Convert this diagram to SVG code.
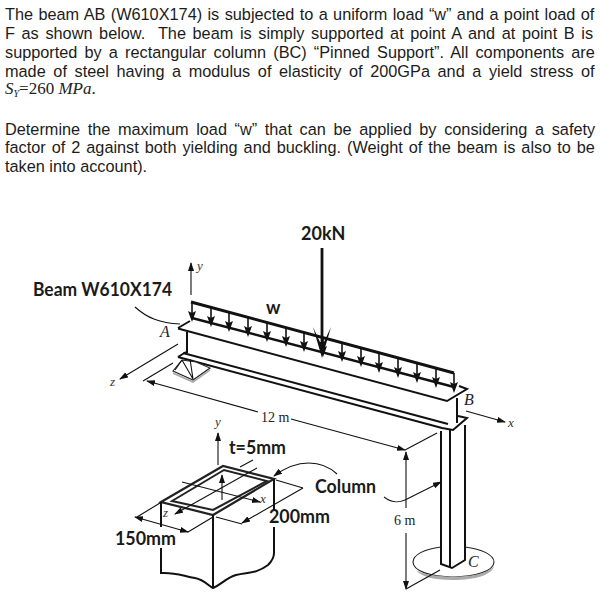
<svg xmlns="http://www.w3.org/2000/svg" width="600" height="596" viewBox="0 0 600 596">
<style>
.t{font:16.3px "Liberation Sans",Arial,sans-serif;fill:#1c1c1c}
.b{font:700 18px Lato,"Liberation Sans",sans-serif;fill:#1a1a1a}
.i{font:italic 13px "Liberation Serif",serif;fill:#333}
.c{font:italic 16px "Liberation Serif",serif;fill:#222}
.d{font:14px "Liberation Serif",serif;fill:#222}
.l{fill:none;stroke:#111;stroke-width:1.1}
.k{fill:none;stroke:#111;stroke-width:2}
.h{fill:none;stroke:#111;stroke-width:3}
</style>
<defs>
<marker id="a" markerWidth="9" markerHeight="7" refX="8" refY="3" orient="auto" markerUnits="userSpaceOnUse"><path d="M0 0L9 3L0 6Z" fill="#111"/></marker>
<marker id="s" markerWidth="9" markerHeight="7" refX="1" refY="3" orient="auto" markerUnits="userSpaceOnUse"><path d="M9 0L0 3L9 6Z" fill="#111"/></marker>
<path id="wh" d="M0 0V14" stroke="#111" stroke-width="1.6"/>
<path id="wa" d="M-4 9L0 20L4 9L0 11Z" fill="#111"/>
</defs>
<g id="statement">
<text class="t" x="5" y="19.500" word-spacing="0.85">The beam AB (W610X174) is subjected to a uniform load “w” and a point load of</text>
<text class="t" x="5" y="38.500" word-spacing="2.1">F as shown below. <tspan dx="6.3">The</tspan> beam is simply supported at point A and at point B is</text>
<text class="t" x="5" y="57.500" word-spacing="2.6">supported by a rectangular column (BC) “Pinned Support”. All components are</text>
<text class="t" x="5" y="76.500" word-spacing="3.07">made of steel having a modulus of elasticity of 200GPa and a yield stress of</text>
<text x="5" y="94" style="font:italic 17px 'Liberation Serif',serif;fill:#222">S<tspan dy="3" font-size="10">Y</tspan><tspan dy="-3" font-style="normal">=260 </tspan>MPa<tspan font-style="normal">.</tspan></text>
<text class="t" x="5" y="134.500" word-spacing="3.1">Determine the maximum load “w” that can be applied by considering a safety</text>
<text class="t" x="5" y="153" word-spacing="1.45">factor of 2 against both yielding and buckling. (Weight of the beam is also to be</text>
<text class="t" x="5" y="172">taken into account).</text>
</g>
<g id="labels">
<text class="b" x="301" y="240">20kN</text>
<text class="b" x="33" y="296" textLength="139" lengthAdjust="spacingAndGlyphs">Beam W610X174</text>
<text class="b" x="266" y="314">w</text>
<text class="b" x="229" y="454" textLength="57" lengthAdjust="spacingAndGlyphs">t=5mm</text>
<text class="b" x="315" y="493" textLength="61" lengthAdjust="spacingAndGlyphs">Column</text>
<text class="b" x="269" y="523" textLength="61" lengthAdjust="spacingAndGlyphs">200mm</text>
<text class="b" x="115" y="545" textLength="61" lengthAdjust="spacingAndGlyphs">150mm</text>
<text class="c" x="160" y="337">A</text>
<text class="c" x="464" y="405">B</text>
<text class="c" x="468" y="567">C</text>
<text class="i" x="197" y="270">y</text>
<text class="i" x="215" y="426">y</text>
<text class="i" x="110" y="386">z</text>
<text class="i" x="508" y="427">x</text>
<text class="i" x="260" y="503">x</text>
<text class="i" x="163" y="517">z</text>
<text class="d" x="261" y="422">12 m</text>
<text class="d" x="394" y="525">6 m</text>
</g>
<g id="beam">
<path class="k" d="M178 328L190 321M178 328.500L447 401L467 389L459 386"/>
<path class="k" d="M187 332V353M457 398V423"/>
<path class="k" d="M183 353L448 424M178 357L442 428M178 357L186 352M442 428L453 430L467 418L458 416"/>
</g>
<g id="load">
<path class="h" d="M191 302L454 373"/>
<path d="M192 318L454 387" fill="none" stroke="#111" stroke-width="2.4"/>
<use href="#wh" x="192" y="302"/><use href="#wa" x="192" y="302"/>
<use href="#wh" x="211" y="307"/><use href="#wa" x="211" y="307"/>
<use href="#wh" x="229" y="312"/><use href="#wa" x="229" y="312"/>
<use href="#wh" x="248" y="317"/><use href="#wa" x="248" y="317"/>
<use href="#wh" x="267" y="322"/><use href="#wa" x="267" y="322"/>
<use href="#wh" x="286" y="327"/><use href="#wa" x="286" y="327"/>
<use href="#wh" x="304" y="332"/><use href="#wa" x="304" y="332"/>
<use href="#wh" x="323" y="337"/><use href="#wa" x="323" y="337"/>
<use href="#wh" x="342" y="342"/><use href="#wa" x="342" y="342"/>
<use href="#wh" x="361" y="347"/><use href="#wa" x="361" y="347"/>
<use href="#wh" x="379" y="353"/><use href="#wa" x="379" y="353"/>
<use href="#wh" x="398" y="358"/><use href="#wa" x="398" y="358"/>
<use href="#wh" x="417" y="363"/><use href="#wa" x="417" y="363"/>
<use href="#wh" x="436" y="368"/><use href="#wa" x="436" y="368"/>
<use href="#wh" x="454" y="373"/><use href="#wa" x="454" y="373"/>
<path d="M322 248V345" stroke="#111" stroke-width="2.8" fill="none"/>
<path d="M313 327L322 358L331 327L324 342H320Z" fill="#111"/>
</g>
<g id="pin-support">
<path d="M173 371L193 380L210 368L196 362L182 360Z" fill="#fff" stroke="#222" stroke-width="1.1"/>
<path class="l" d="M182 360L193 379M190 359L193 379M182 360L175 370"/>
<path d="M173 372L193 381L210 369L210 371L193 383L173 374Z" fill="#aaa"/>
</g>
<g id="column">
<path class="k" d="M441 431V564L452 568L465 560V425M450 430V568"/>
</g>
<g id="base">
<path d="M441 547C424 549 413 555 413 562C413 571 431 577 453 577C475 577 494 571 494 562C494 555 482 549 465 547" fill="none" stroke="#222" stroke-width="1.1"/>
<path d="M416 570C426 578 480 580 492 568L494 566C492 575 475 580 453 580C432 580 420 576 416 570Z" fill="#aaa"/>
</g>
<g id="section">
<path d="M161 502L223 466L274 479L213 515Z" fill="#fff" stroke="#222" stroke-width="2.2"/>
<path d="M172 501L224 470L267 481L213 510Z" fill="none" stroke="#222" stroke-width="2"/>
<path class="k" d="M161 502V527M161 548V573C175 572 183 576 195 578C205 580 208 586 213 588C222 584 226 578 236 575C248 572 256 574 268 565C272 561 274 558 274 553V527M274 510V479M213 515V588"/>
</g>
<g id="connectors">
<path class="l" d="M191 295V263" marker-end="url(#a)"/>
<path class="l" d="M178 344L120 379" marker-end="url(#a)"/>
<path class="l" d="M258 412L147 381" marker-end="url(#a)"/>
<path class="l" d="M143 381L173 363"/>
<path class="l" d="M291 419L405 450" marker-end="url(#a)"/>
<path class="l" d="M405 450L437 433"/>
<path class="l" d="M466 411L505 422" marker-end="url(#a)"/>
<path class="l" d="M406 508V452" marker-end="url(#a)"/>
<path class="l" d="M406 533V589" marker-end="url(#a)"/>
<path class="l" d="M406 589L440 570"/>
<path class="l" d="M384 497C392 503 398 503 405 500L441 482" marker-end="url(#a)"/>
<path class="l" d="M218 465V433" marker-end="url(#a)"/>
<path class="l" d="M222 500V475" marker-end="url(#a)"/>
<path class="l" d="M182 482L260 502" marker-end="url(#a)"/>
<path class="l" d="M248 473L175 514" marker-end="url(#a)"/>
<path class="l" d="M240 467L253 460M248 473L257 468"/>
<path class="l" d="M276 480L303 488M216 517L242 524"/>
<path class="l" d="M242 523L303 488" marker-start="url(#s)"/>
<path class="l" d="M137 517L160 503M188 532L213 517"/>
<path class="l" d="M135 517L188 532" marker-start="url(#s)" marker-end="url(#a)"/>
<path class="l" d="M337 474C322 460 298 458 274 476" marker-end="url(#a)"/>
<path class="l" d="M135 307C147 318 160 323 180 324"/>
</g>
</svg>
